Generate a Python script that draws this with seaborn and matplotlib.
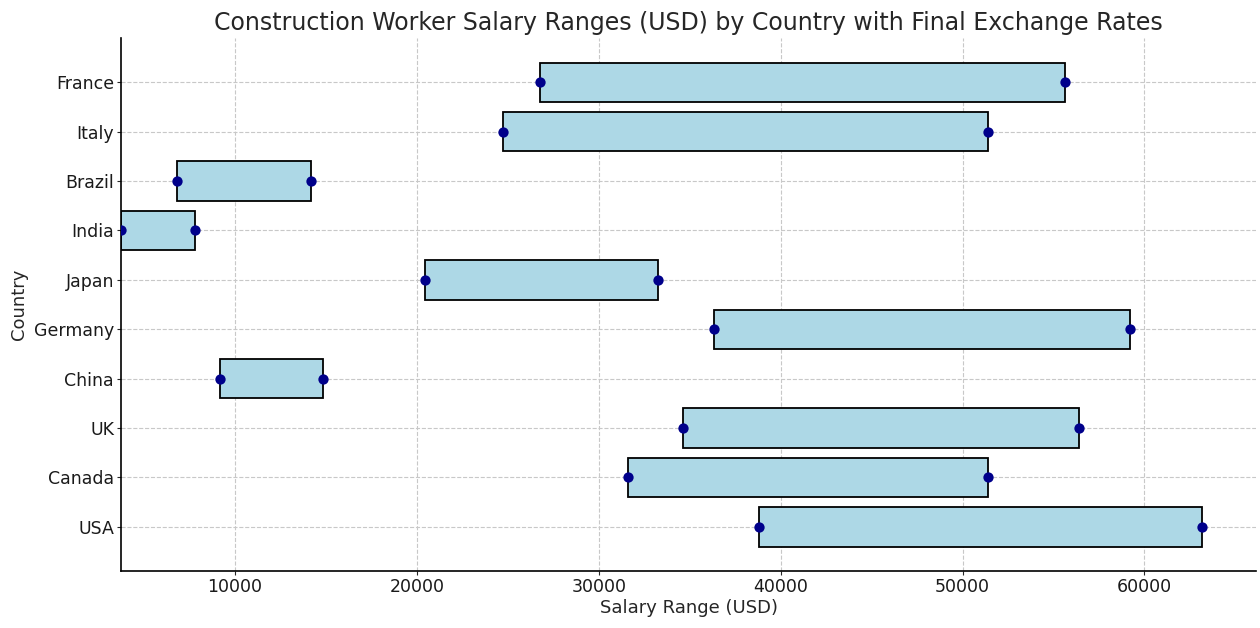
import matplotlib
matplotlib.use("Agg")
import matplotlib.pyplot as plt
import seaborn as sns
import pandas as pd

countries = ["USA", "Canada", "UK", "China", "Germany", "Japan", "India", "Brazil", "Italy", "France"]
min_salary = [38800, 31600, 34650, 9180, 36350, 20440, 3740, 6810, 24730, 26780]
max_salary = [63170, 51390, 56380, 14830, 59180, 33250, 7800, 14170, 51380, 55620]

df = pd.DataFrame({"Country": countries, "Min": min_salary, "Max": max_salary})
df["pos"] = range(len(df))

sns.set_style("ticks")
plt.rcParams["font.family"] = ["DejaVu Sans"]

fig, ax = plt.subplots(figsize=(12.6, 6.28), dpi=100)
fig.subplots_adjust(left=0.096, right=0.997, top=0.939, bottom=0.091)

ax.barh(df["pos"], df["Max"] - df["Min"], left=df["Min"], height=0.8,
        color="lightblue", edgecolor="black", linewidth=1.3, zorder=2)

long = pd.concat([
    pd.DataFrame({"x": df["Min"], "y": df["pos"]}),
    pd.DataFrame({"x": df["Max"], "y": df["pos"]}),
])
sns.scatterplot(data=long, x="x", y="y", color="darkblue", s=55,
                edgecolor="darkblue", linewidth=0, zorder=3, ax=ax)

ax.set_yticks(df["pos"])
ax.set_yticklabels(df["Country"])
ax.set_xlabel("Salary Range (USD)", fontsize=13, labelpad=2)
ax.set_ylabel("Country", fontsize=13, labelpad=4)
ax.set_title("Construction Worker Salary Ranges (USD) by Country with Final Exchange Rates",
             fontsize=17, color="#262626")
ax.tick_params(labelsize=12.5, colors="#262626", labelcolor="#1a1a1a", length=3, pad=2)
ax.grid(True, linestyle="--", color="#c8c8c8", linewidth=0.8, zorder=0)
ax.set_axisbelow(True)
sns.despine(ax=ax)
for s in ["left", "bottom"]:
    ax.spines[s].set_color("black")
    ax.spines[s].set_linewidth(1.2)

fig.savefig("out.png", dpi=100)
